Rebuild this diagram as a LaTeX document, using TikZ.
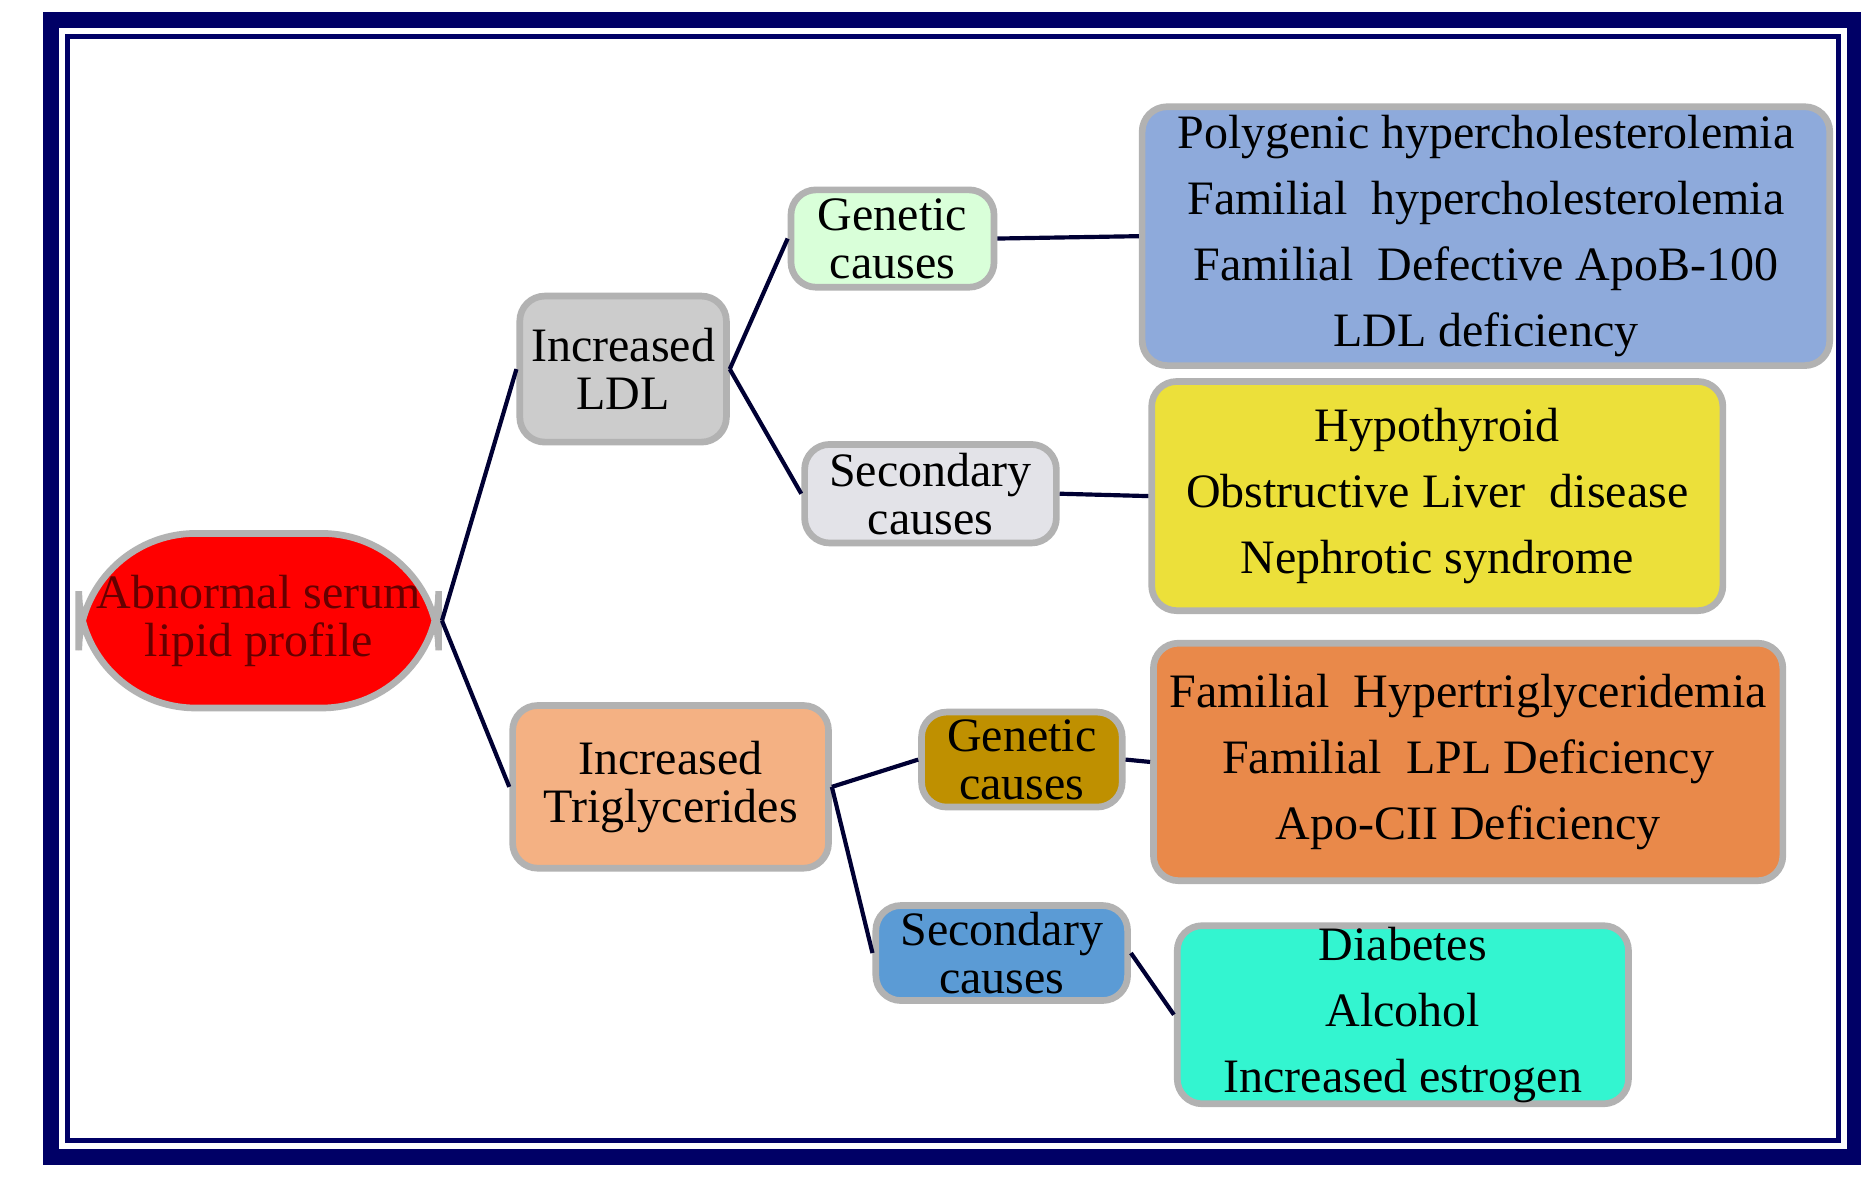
\documentclass[tikz,border=0pt]{standalone}
\usepackage{fontspec}
\setmainfont{Liberation Serif}
\begin{document}
\begin{tikzpicture}[x=0.01cm,y=-0.01cm,
 box/.style={draw=gray!60,line width=1.6pt,rounded corners=6pt,align=center,inner sep=0pt,font=\fontsize{11.5}{11.5}\selectfont},
 list/.style={box,font=\fontsize{11.5}{15.8}\selectfont},
 link/.style={draw=black!80!blue,line width=1pt}]
\useasboundingbox (0,0) rectangle (1568,995);
\fill[white] (0,0) rectangle (1568,995);
\fill[blue!40!black] (36,10) rectangle (1568,982);
\fill[white] (50,24) rectangle (1556,968);
\draw[blue!40!black,line width=1.3pt] (57,31) rectangle (1549,961);
\node[box,fill=red,rounded corners=28pt,minimum width=3.03cm,minimum height=1.47cm,text=red!40!black] (root) at (218,523) {Abnormal serum\\lipid profile};
\node[box,fill=gray!40,minimum width=1.74cm,minimum height=1.23cm] (ldl) at (525,311) {Increased\\LDL};
\node[box,fill=green!15!white,minimum width=1.71cm,minimum height=0.82cm] (g1) at (752,201) {Genetic\\causes};
\node[box,fill=blue!8!gray!20,minimum width=2.12cm,minimum height=0.83cm] (s1) at (784,416) {Secondary\\causes};
\node[list,fill={rgb,255:red,142;green,170;blue,219},minimum width=5.79cm,minimum height=2.18cm] (b1) at (1252,199) {Polygenic hypercholesterolemia\\Familial\ \ hypercholesterolemia\\Familial\ \ Defective ApoB-100\\LDL deficiency};
\node[list,fill={rgb,255:red,236;green,224;blue,58},minimum width=4.81cm,minimum height=1.93cm] (b2) at (1211,418) {Hypothyroid\\Obstructive Liver\ \ disease\\Nephrotic syndrome};
\node[box,fill={rgb,255:red,244;green,177;blue,131},minimum width=2.66cm,minimum height=1.37cm] (tg) at (565,663) {Increased\\Triglycerides};
\node[box,fill={rgb,255:red,191;green,144;blue,0},minimum width=1.69cm,minimum height=0.8cm] (g2) at (861,640) {Genetic\\causes};
\node[list,fill={rgb,255:red,233;green,137;blue,74},minimum width=5.3cm,minimum height=2cm] (b3) at (1237,642) {Familial\ \ Hypertriglyceridemia\\Familial\ \ LPL Deficiency\\Apo-CII Deficiency};
\node[box,fill={rgb,255:red,91;green,155;blue,213},minimum width=2.12cm,minimum height=0.8cm] (s2) at (844,803) {Secondary\\causes};
\node[list,fill={rgb,255:red,51;green,245;blue,208},minimum width=3.8cm,minimum height=1.5cm] (b4) at (1182,855) {Diabetes\\Alcohol\\Increased estrogen};
\draw[link] (root.east) -- (ldl.west);
\draw[link] (root.east) -- (tg.west);
\draw[link] (ldl.east) -- (g1.west);
\draw[link] (ldl.east) -- (s1.west);
\draw[link] (g1.east) -- (b1.west);
\draw[link] (s1.east) -- (b2.west);
\draw[link] (tg.east) -- (g2.west);
\draw[link] (tg.east) -- (s2.west);
\draw[link] (g2.east) -- (b3.west);
\draw[link] (s2.east) -- (b4.west);
\end{tikzpicture}
\end{document}
